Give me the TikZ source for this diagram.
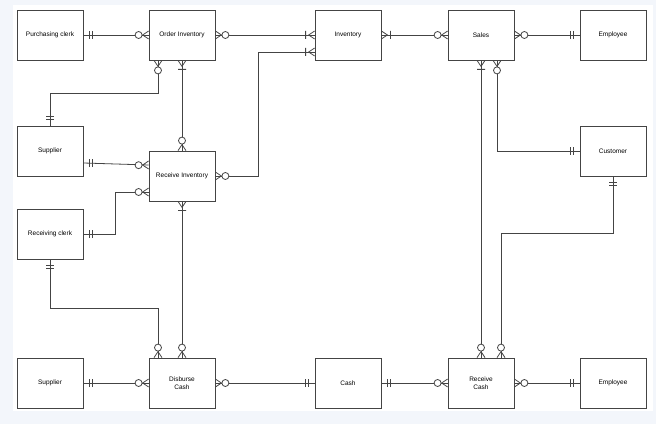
\documentclass[tikz,border=0pt]{standalone}
\usepackage{fontspec}
\setmainfont{Liberation Sans}
\usetikzlibrary{calc}
\definecolor{bgb}{HTML}{F3F6FB}
\definecolor{ln}{HTML}{444444}
\tikzset{
  ent/.style={draw=ln,line width=0.8pt,fill=white,minimum width=66pt,minimum height=50pt,inner sep=0pt,font=\fontsize{6.5}{8}\selectfont,align=center},
  con/.style={draw=ln,line width=0.8pt},
}
\newcommand\erOne[2]{\begin{scope}[shift={(#1)},rotate=#2]\draw[con] (6,-4)--(6,4) (9,-4)--(9,4);\end{scope}}
\newcommand\erZM[2]{\begin{scope}[shift={(#1)},rotate=#2]\draw[con] (0,-4)--(6,0)--(0,4);\draw[con,fill=white] (10,0) circle (3.5);\end{scope}}
\newcommand\erOM[2]{\begin{scope}[shift={(#1)},rotate=#2]\draw[con] (0,-4)--(6,0)--(0,4) (9,-4)--(9,4);\end{scope}}
\begin{document}
\begin{tikzpicture}[x=1pt,y=1pt]
\useasboundingbox (0,0) rectangle (656,424);
\fill[bgb] (0,0) rectangle (656,424);
\fill[white] (13,13) rectangle (653,419);
\node[ent] (pc) at (50,389) {Purchasing clerk};
\node[ent] (oi) at (182,389) {Order Inventory};
\node[ent] (inv) at (348,389) {Inventory};
\node[ent] (sal) at (481,389) {Sales};
\node[ent] (emp) at (613,389) {Employee};
\node[ent] (sup) at (50,273) {Supplier};
\node[ent] (cus) at (613,273) {Customer};
\node[ent] (ri) at (182,248) {Receive Inventory};
\node[ent] (rc) at (50,190) {Receiving clerk};
\node[ent] (sup2) at (50,41) {Supplier};
\node[ent] (dc) at (182,41) {Disburse\\Cash};
\node[ent] (cash) at (348,41) {Cash};
\node[ent] (rca) at (481,41) {Receive\\Cash};
\node[ent] (emp2) at (613,41) {Employee};
% connectors
\draw[con] (pc.east) -- (oi.west);
\erOne{pc.east}{0}\erZM{oi.west}{180}
\draw[con] (oi.east) -- (inv.west);
\erZM{oi.east}{0}\erOM{inv.west}{180}
\coordinate (a1) at ([yshift=-17]inv.west);
\draw[con] (ri.east) -| ($(ri.east)!0.43!(ri.east-|a1)$) |- (a1);
\erZM{ri.east}{0}\erOM{a1}{180}
\coordinate (a2) at ([xshift=-24]oi.south);
\draw[con] (a2) -- ++(0,-33) -| (sup.north);
\erZM{a2}{270}\erOne{sup.north}{90}
\draw[con] (oi.south) -- (ri.north);
\erOM{oi.south}{270}\erZM{ri.north}{90}
\coordinate (a3) at ([yshift=-12]sup.east);
\coordinate (a4) at ([yshift=11]ri.west);
\draw[con] (a3) -- (a4);
\erOne{a3}{0}\erZM{a4}{181}
\coordinate (a5) at ([yshift=-16]ri.west);
\draw[con] (rc.east) -- ++(32,0) |- (a5);
\erOne{rc.east}{0}\erZM{a5}{180}
\draw[con] (ri.south) -- (dc.north);
\erOM{ri.south}{270}\erZM{dc.north}{90}
\coordinate (a6) at ([xshift=-24]dc.north);
\draw[con] (rc.south) -- ++(0,-49) -| (a6);
\erOne{rc.south}{270}\erZM{a6}{90}
\draw[con] (sup2.east) -- (dc.west);
\erOne{sup2.east}{0}\erZM{dc.west}{180}
\draw[con] (dc.east) -- (cash.west);
\erZM{dc.east}{0}\erOne{cash.west}{180}
\draw[con] (cash.east) -- (rca.west);
\erOne{cash.east}{0}\erZM{rca.west}{180}
\draw[con] (rca.east) -- (emp2.west);
\erZM{rca.east}{0}\erOne{emp2.west}{180}
\draw[con] (inv.east) -- (sal.west);
\erOM{inv.east}{0}\erZM{sal.west}{180}
\draw[con] (sal.east) -- (emp.west);
\erZM{sal.east}{0}\erOne{emp.west}{180}
\draw[con] (sal.south) -- (rca.north);
\erOM{sal.south}{270}\erZM{rca.north}{90}
\coordinate (a7) at ([xshift=16]sal.south);
\draw[con] (a7) |- (cus.west);
\erZM{a7}{270}\erOne{cus.west}{180}
\coordinate (a8) at ([xshift=20]rca.north);
\draw[con] (cus.south) -- ++(0,-57) -| (a8);
\erOne{cus.south}{270}\erZM{a8}{90}
\end{tikzpicture}
\end{document}
